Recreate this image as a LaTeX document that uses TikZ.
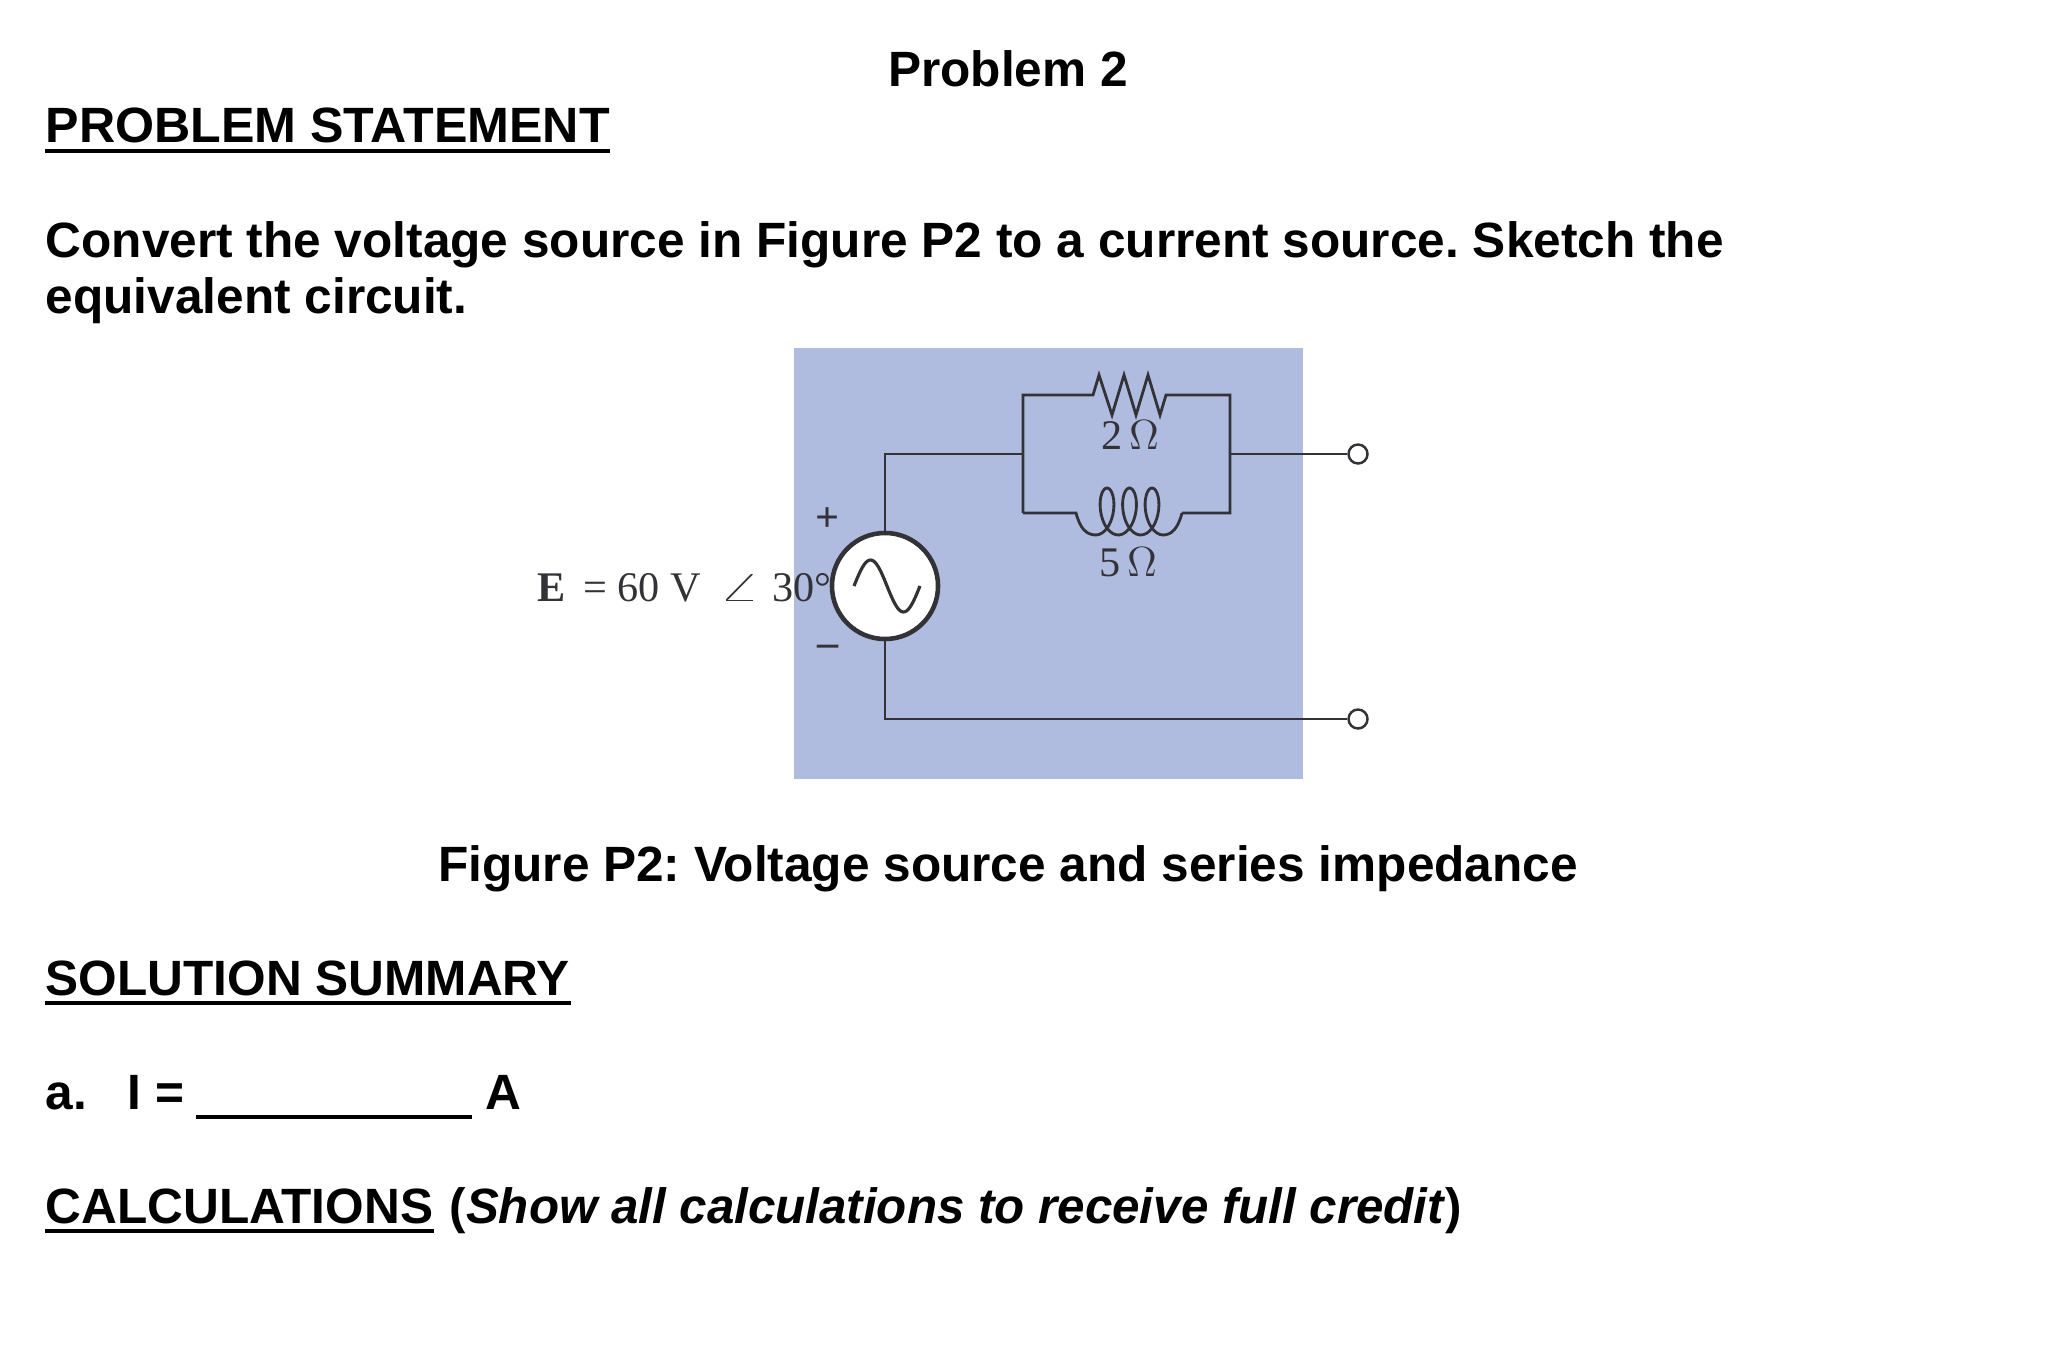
\documentclass[tikz,border=0pt]{standalone}
\usepackage{fontspec}
\setmainfont{Liberation Sans}
\newfontfamily\circfont{Liberation Serif}
\definecolor{panelblue}{RGB}{175,188,224}
\definecolor{wirecol}{RGB}{50,50,55}
\tikzset{
  doc/.style={anchor=base west,inner sep=0pt,font=\fontsize{14.1}{16}\selectfont\bfseries\frenchspacing},
  circ/.style={inner sep=0pt,text=wirecol,font=\fontsize{12}{14}\selectfont\circfont},
  wire/.style={draw=wirecol,line width=0.8pt},
  rulebar/.style={line width=1.3pt},
  post/.style={circle,draw=wirecol,fill=white,line width=0.7pt,minimum size=5.4pt,inner sep=0pt}
}
\begin{document}
\begin{tikzpicture}[x=0.01cm,y=-0.01cm]
\useasboundingbox (0,0) rectangle (2046,1352);
\node[doc,anchor=base] (title) at (1008,87) {Problem 2};
\node[doc,xscale=1.012] (headA) at (45,143) {PROBLEM STATEMENT};
\draw[rulebar] ([yshift=-0.08cm]headA.base west) -- ([yshift=-0.08cm]headA.base east);
\node[doc] (lineA) at (45,258) {Convert the voltage source in Figure P2 to a current source. Sketch the};
\node[doc] (lineB) at (45,314) {equivalent circuit.};
%
\fill[panelblue] (794,348) rectangle (1303,779);
\coordinate (leftJ) at (1023,454);
\coordinate (rightJ) at (1230,454);
\coordinate (topL) at (1023,395);
\coordinate (topR) at (1230,395);
\coordinate (botL) at (1023,513);
\coordinate (botR) at (1230,513);
\coordinate (resL) at (1093,395);
\coordinate (resR) at (1166,395);
\coordinate (indL) at (1076,513);
\coordinate (indR) at (1182,513);
\node[circle,draw=wirecol,fill=white,line width=1.3pt,inner sep=0pt,minimum width=1.06cm] (src) at (885,586) {};
\node[post] (termA) at (1358,454) {};
\node[post] (termB) at (1358,719) {};
\draw[wire] (src.north) |- (leftJ);
\draw[wire] (src.south) |- (termB.west);
\draw[wire] (rightJ) -- (termA.west);
\draw[wire] (botL) -- (topL) -- (resL) -- (1099,375) -- (1112,415) -- (1124,375) -- (1136,415) -- (1148,375) -- (1160,415) -- (resR) -- (topR) -- (botR) -- (indR);
\draw[wire] (botL) -- (indL) .. controls (1080,528) and (1086,535) .. (1096,535);
\draw[wire] plot[smooth,domain=-180:900,samples=90] ({1107+0.0625*\x-12*sin(\x)},{511.5-23.5*cos(\x)});
\draw[wire] (1163,535) .. controls (1172,535) and (1178,528) .. (indR);
\draw[wire,line width=0.9pt] plot[smooth,domain=0:360,samples=40] ({854+0.1833*\x},{586-26*sin(\x)});
\node[circ] (lblR) at (1130,435) {2\,$\Omega$};
\node[circ] (lblL) at (1128,562) {5\,$\Omega$};
\node[circ] (plus) at (828,520) {\bfseries +};
\node[circ] (minus) at (828,651) {\bfseries\textendash};
\node[circ,anchor=base west] (srcE) at (537,601) {\textbf{E}\, = 60 V\, \scalebox{1.8}[1]{$\angle$}\;30\textdegree};
%
\node[doc,anchor=base] (caption) at (1008,881) {Figure P2: Voltage source and series impedance};
\node[doc] (headB) at (45,995) {SOLUTION SUMMARY};
\draw[rulebar] ([yshift=-0.08cm]headB.base west) -- ([yshift=-0.08cm]headB.base east);
\node[doc] (itemA) at (45,1109) {a.};
\node[doc] (eqI) at (127,1109) {I =};
\coordinate (blankL) at (196,1117);
\coordinate (blankR) at (472,1117);
\draw[rulebar] (blankL) -- (blankR);
\node[doc] (unitA) at (485,1109) {A};
\node[doc] (headC) at (45,1223) {CALCULATIONS};
\draw[rulebar] ([yshift=-0.08cm]headC.base west) -- ([yshift=-0.08cm]headC.base east);
\node[doc,xscale=0.994] (noteC) at (449,1223) {(\textit{Show all calculations to receive full credit})};
\end{tikzpicture}
\end{document}
